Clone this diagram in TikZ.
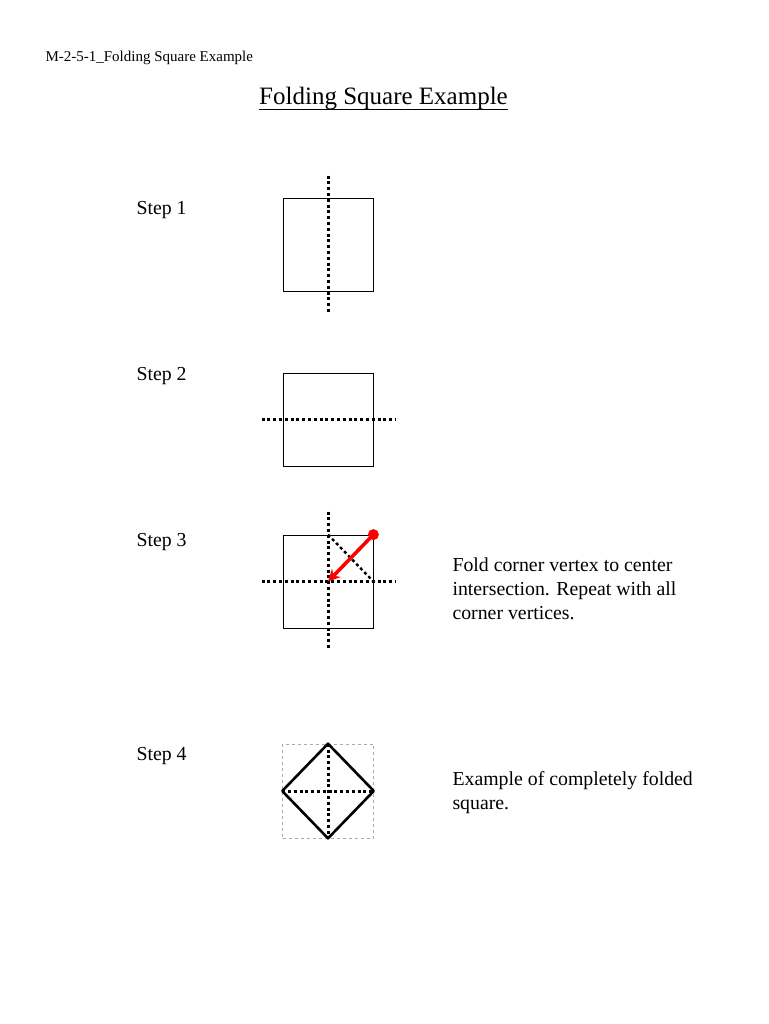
\documentclass[tikz,border=0pt]{standalone}
\usepackage{fontspec}
\setmainfont{Liberation Serif}
\usepackage{tikz}
\usetikzlibrary{arrows.meta, positioning}
\definecolor{foldred}{RGB}{255, 0, 0}
\definecolor{guidegray}{RGB}{170, 170, 170}

\begin{document}
\begin{tikzpicture}[x=1pt, y=-1pt,
    every node/.style={font=\fontsize{19.8}{24}\selectfont},
    paper/.style={draw, line width=0.8pt, minimum width=90pt, minimum height=93pt,
                  inner sep=0pt},
    foldline/.style={line width=3pt, dash pattern=on 3pt off 2.8pt},
    steplabel/.style={anchor=west}]
  \useasboundingbox (0,0) rectangle (768,1024);

  % Header and title
  \node[anchor=west, font=\fontsize{15}{18}\selectfont] (header) at (42,58)
    {M-2-5-1\_Folding Square Example};
  \node[anchor=base, inner sep=0pt, font=\fontsize{25}{30}\selectfont] (title)
    at (383.5,105) {Folding Square Example};
  \draw[line width=0.9pt] ([yshift=-4pt]title.base west) -- ([yshift=-4pt]title.base east);

  % Step 1: vertical fold
  \node[steplabel] (s1) at (133,210) {Step 1};
  \node[paper] (sq1) at (328,244.5) {};
  \coordinate (v1top) at ([yshift=22pt]sq1.north);
  \coordinate (v1bot) at ([yshift=-22pt]sq1.south);
  \draw[foldline] (v1top) -- (v1bot);

  % Step 2: horizontal fold
  \node[steplabel] (s2) at (133,376) {Step 2};
  \node[paper] (sq2) at (328,419.5) {};
  \coordinate (h2left) at ([xshift=-21pt]sq2.west);
  \coordinate (h2right) at ([xshift=23pt]sq2.east);
  \draw[foldline] (h2left) -- (h2right);

  % Step 3: fold corner to center
  \node[steplabel] (s3) at (133,542) {Step 3};
  \node[paper] (sq3) at (328,581.5) {};
  \coordinate (v3top) at ([yshift=23pt]sq3.north);
  \coordinate (v3bot) at ([yshift=-20pt]sq3.south);
  \coordinate (h3left) at ([xshift=-21pt]sq3.west);
  \coordinate (h3right) at ([xshift=23pt]sq3.east);
  \draw[foldline] (v3top) -- (v3bot);
  \draw[foldline] (h3left) -- (h3right);
  \draw[foldline, line width=2.4pt] (sq3.north) -- (sq3.east);
  \node[circle, fill=foldred, inner sep=0pt, minimum size=11pt] (corner)
    at (sq3.north east) {};
  \draw[foldred, line width=3.6pt, -{Stealth[length=12pt, width=12pt]}]
    (corner.center) -- (sq3.center);
  \node[anchor=north west, align=left] (note3) at (449,554)
    {Fold corner vertex to center\\intersection. Repeat with all\\corner vertices.};

  % Step 4: folded square
  \node[steplabel] (s4) at (133,756) {Step 4};
  \node[draw=guidegray, dashed, line width=0.6pt, minimum width=91pt,
        minimum height=94pt, inner sep=0pt] (sq4) at (328,791) {};
  \draw[line width=2.6pt, line join=round]
    (sq4.north) -- (sq4.east) -- (sq4.south) -- (sq4.west) -- cycle;
  \draw[foldline] (sq4.north) -- (sq4.south);
  \draw[foldline] (sq4.west) -- (sq4.east);
  \node[anchor=north west, align=left] (note4) at (449,768)
    {Example of completely folded\\square.};
\end{tikzpicture}
\end{document}
